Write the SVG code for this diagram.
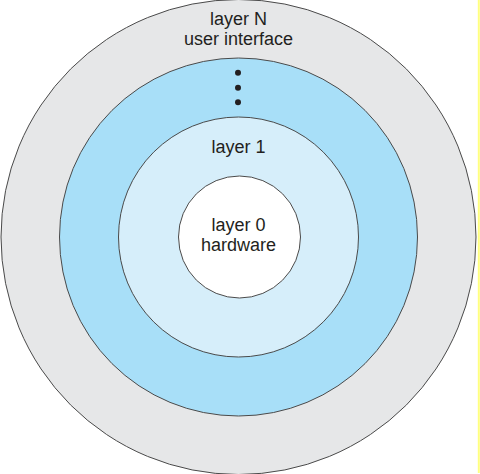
<svg xmlns="http://www.w3.org/2000/svg" width="480" height="474" viewBox="0 0 480 474">
<style>
.ring{stroke:#4a4a4a;stroke-width:1}
.lbl{font-family:"Liberation Sans",Arial,sans-serif;font-size:18px;fill:#231f20;text-anchor:middle}
</style>
<rect width="480" height="474" fill="#ffffff"/>
<rect x="477.8" y="0" width="2" height="473" fill="#ffff80"/>
<g id="layerN">
<circle class="ring" cx="238.5" cy="237" r="237.5" fill="#e6e7e8"/>
<text class="lbl" x="238.5" y="25">layer N</text>
<text class="lbl" x="238.5" y="45">user interface</text>
</g>
<g id="layer-dots">
<circle class="ring" cx="238.5" cy="237" r="179" fill="#a8dff8"/>
<circle cx="238" cy="72.7" r="3" fill="#231f20"/>
<circle cx="238" cy="87.7" r="3" fill="#231f20"/>
<circle cx="238" cy="102.3" r="3" fill="#231f20"/>
</g>
<g id="layer1">
<circle class="ring" cx="238.5" cy="237" r="120" fill="#d6eefa"/>
<text class="lbl" x="238.5" y="153">layer 1</text>
</g>
<g id="layer0">
<circle class="ring" cx="239.5" cy="237" r="61" fill="#ffffff"/>
<text class="lbl" x="238.5" y="230.5">layer 0</text>
<text class="lbl" x="238.5" y="250.5">hardware</text>
</g>
<g id="connectors"/>
</svg>
